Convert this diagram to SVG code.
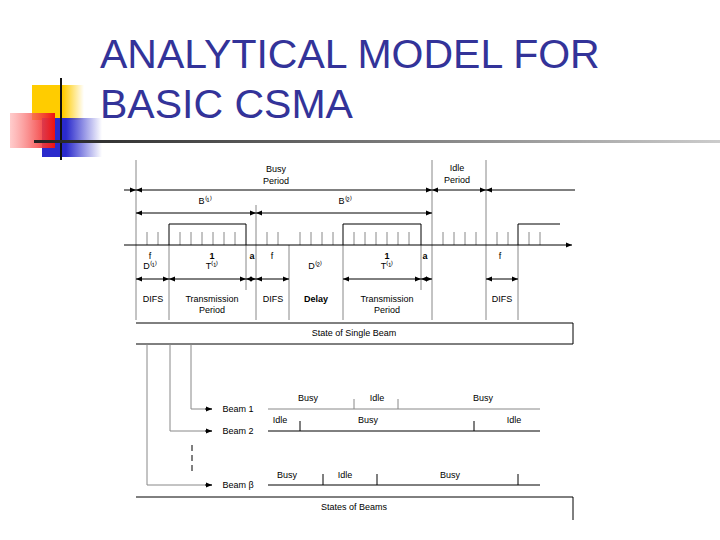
<svg xmlns="http://www.w3.org/2000/svg" width="720" height="540" viewBox="0 0 720 540">
<defs>
<linearGradient id="gy" x1="0" x2="1"><stop offset="0.6" stop-color="#FFCC00"/><stop offset="1" stop-color="#FFCC00" stop-opacity="0"/></linearGradient>
<linearGradient id="gr" x1="0" x2="1"><stop offset="0" stop-color="#FFAAAA" stop-opacity="0.6"/><stop offset="1" stop-color="#EE1111"/></linearGradient>
<linearGradient id="gb" x1="0" x2="1"><stop offset="0.4" stop-color="#2A2ACC"/><stop offset="1" stop-color="#2A2ACC" stop-opacity="0"/></linearGradient>
<linearGradient id="gl" x1="0" x2="1"><stop offset="0" stop-color="#222"/><stop offset="1" stop-color="#ccc"/></linearGradient>
<marker id="a" viewBox="0 0 10 10" refX="10" refY="5" markerWidth="6" markerHeight="6" orient="auto-start-reverse"><path d="M0,1 L10,5 L0,9 Z" fill="#000"/></marker>
<style>
.t{font-family:"Liberation Sans",Arial,sans-serif;font-size:9px;fill:#000;text-anchor:middle}
.b{font-weight:bold}
.l{stroke:#000;stroke-width:1;fill:none}
.g{stroke:#888;stroke-width:1;fill:none}
.h{font-family:"Liberation Sans",Arial,sans-serif;font-size:41px;fill:#333399}
</style>
</defs>
<rect width="720" height="540" fill="#fff"/>
<g id="decor">
<rect x="32" y="85" width="52" height="35" fill="url(#gy)"/>
<rect x="42" y="118" width="60" height="39" fill="url(#gb)"/>
<rect x="10" y="113" width="45" height="35" fill="url(#gr)"/>
<line x1="61" y1="78" x2="61" y2="160" stroke="#111" stroke-width="2"/>
<rect x="34" y="140" width="686" height="3" fill="url(#gl)"/>
</g>
<g id="title">
<text class="h" x="100" y="68">ANALYTICAL MODEL FOR</text>
<text class="h" x="100" y="118">BASIC CSMA</text>
</g>
<g id="timeline">
<g class="g">
<path d="M136,160V320 M432,160V320 M486,160V320 M256,205V320 M169,245V320 M289,245V320 M343,245V320 M518,245V320 M246,245V290 M421,245V290"/>
<path d="M147,232V245 M158,232V245 M180,232V245 M191,232V245 M202,232V245 M213,232V245 M224,232V245 M235,232V245 M267,232V245 M278,232V245 M300,232V245 M311,232V245 M322,232V245 M333,232V245 M354,232V245 M365,232V245 M376,232V245 M387,232V245 M398,232V245 M409,232V245 M443,232V245 M454,232V245 M465,232V245 M476,232V245 M497,232V245 M508,232V245 M529,232V245 M540,232V245"/>
</g>
<path class="l" d="M169,245V224H246V245 M343,245V224H421V245 M518,245V224H560" stroke-width="1.5"/>
<line class="l" x1="124" y1="245" x2="572" y2="245" marker-end="url(#a)"/>
<g class="l" marker-start="url(#a)" marker-end="url(#a)">
<line x1="136" y1="190" x2="432" y2="190"/>
<line x1="432" y1="190" x2="486" y2="190"/>
<line x1="136" y1="213" x2="256" y2="213"/>
<line x1="256" y1="213" x2="432" y2="213"/>
<line x1="136" y1="279" x2="169" y2="279"/>
<line x1="169" y1="279" x2="246" y2="279"/>
<line x1="246" y1="279" x2="256" y2="279"/>
<line x1="256" y1="279" x2="289" y2="279"/>
<line x1="343" y1="279" x2="421" y2="279"/>
<line x1="421" y1="279" x2="432" y2="279"/>
<line x1="486" y1="279" x2="518" y2="279"/>
</g>
<line class="l" x1="124" y1="190" x2="136" y2="190" marker-end="url(#a)"/>
<line class="l" x1="575" y1="190" x2="486" y2="190" marker-end="url(#a)"/>
<text class="t" x="276" y="172">Busy</text><text class="t" x="276" y="184">Period</text>
<text class="t" x="457" y="171">Idle</text><text class="t" x="457" y="183">Period</text>
<text class="t" x="205" y="204">B⁽¹⁾</text><text class="t" x="345" y="204">B⁽²⁾</text>
<text class="t" x="150" y="259">f</text><text class="t" x="150" y="269">D⁽¹⁾</text>
<text class="t b" x="212" y="259">1</text><text class="t" x="212" y="269">T⁽¹⁾</text>
<text class="t b" x="252" y="259">a</text>
<text class="t" x="272" y="259">f</text><text class="t" x="315" y="269">D⁽²⁾</text>
<text class="t b" x="387" y="259">1</text><text class="t" x="387" y="269">T⁽¹⁾</text>
<text class="t b" x="425" y="259">a</text>
<text class="t" x="500" y="259">f</text>
<text class="t" x="153" y="302">DIFS</text>
<text class="t" x="212" y="302">Transmission</text><text class="t" x="212" y="313">Period</text>
<text class="t" x="273" y="302">DIFS</text>
<text class="t b" x="316" y="302">Delay</text>
<text class="t" x="387" y="302">Transmission</text><text class="t" x="387" y="313">Period</text>
<text class="t" x="502" y="302">DIFS</text>
</g>
<g id="single">
<path class="l" d="M136,323H573V344H136"/>
<text class="t" x="354" y="336">State of Single Beam</text>
</g>
<g id="connectors">
<path class="g" d="M147,344V485H212 M170,344V431H212 M191,344V409H212"/>
<g class="l"><line x1="205" y1="485" x2="212" y2="485" marker-end="url(#a)"/><line x1="205" y1="431" x2="212" y2="431" marker-end="url(#a)"/><line x1="205" y1="409" x2="212" y2="409" marker-end="url(#a)"/></g>
<line x1="192" y1="445" x2="192" y2="473" stroke="#000" stroke-dasharray="6,4"/>
</g>
<g id="beam1">
<text class="t" x="238" y="412">Beam 1</text>
<path class="g" d="M268,409H540 M354,399V409 M398,399V409"/>
<text class="t" x="308" y="401">Busy</text><text class="t" x="377" y="401">Idle</text><text class="t" x="483" y="401">Busy</text>
</g>
<g id="beam2">
<text class="t" x="238" y="434">Beam 2</text>
<path class="l" d="M268,431H540 M300,421V431 M474,421V431" stroke="#444"/>
<text class="t" x="280" y="423">Idle</text><text class="t" x="368" y="423">Busy</text><text class="t" x="514" y="423">Idle</text>
</g>
<g id="beamb">
<text class="t" x="238" y="488">Beam β</text>
<path class="l" d="M268,485H540 M323,474V485 M377,474V485 M518,474V485" stroke="#555" stroke-width="1.5"/>
<text class="t" x="287" y="478">Busy</text><text class="t" x="345" y="478">Idle</text><text class="t" x="450" y="478">Busy</text>
</g>
<g id="beams">
<path class="l" d="M136,497H573V520"/>
<text class="t" x="354" y="510">States of Beams</text>
</g>
</svg>
